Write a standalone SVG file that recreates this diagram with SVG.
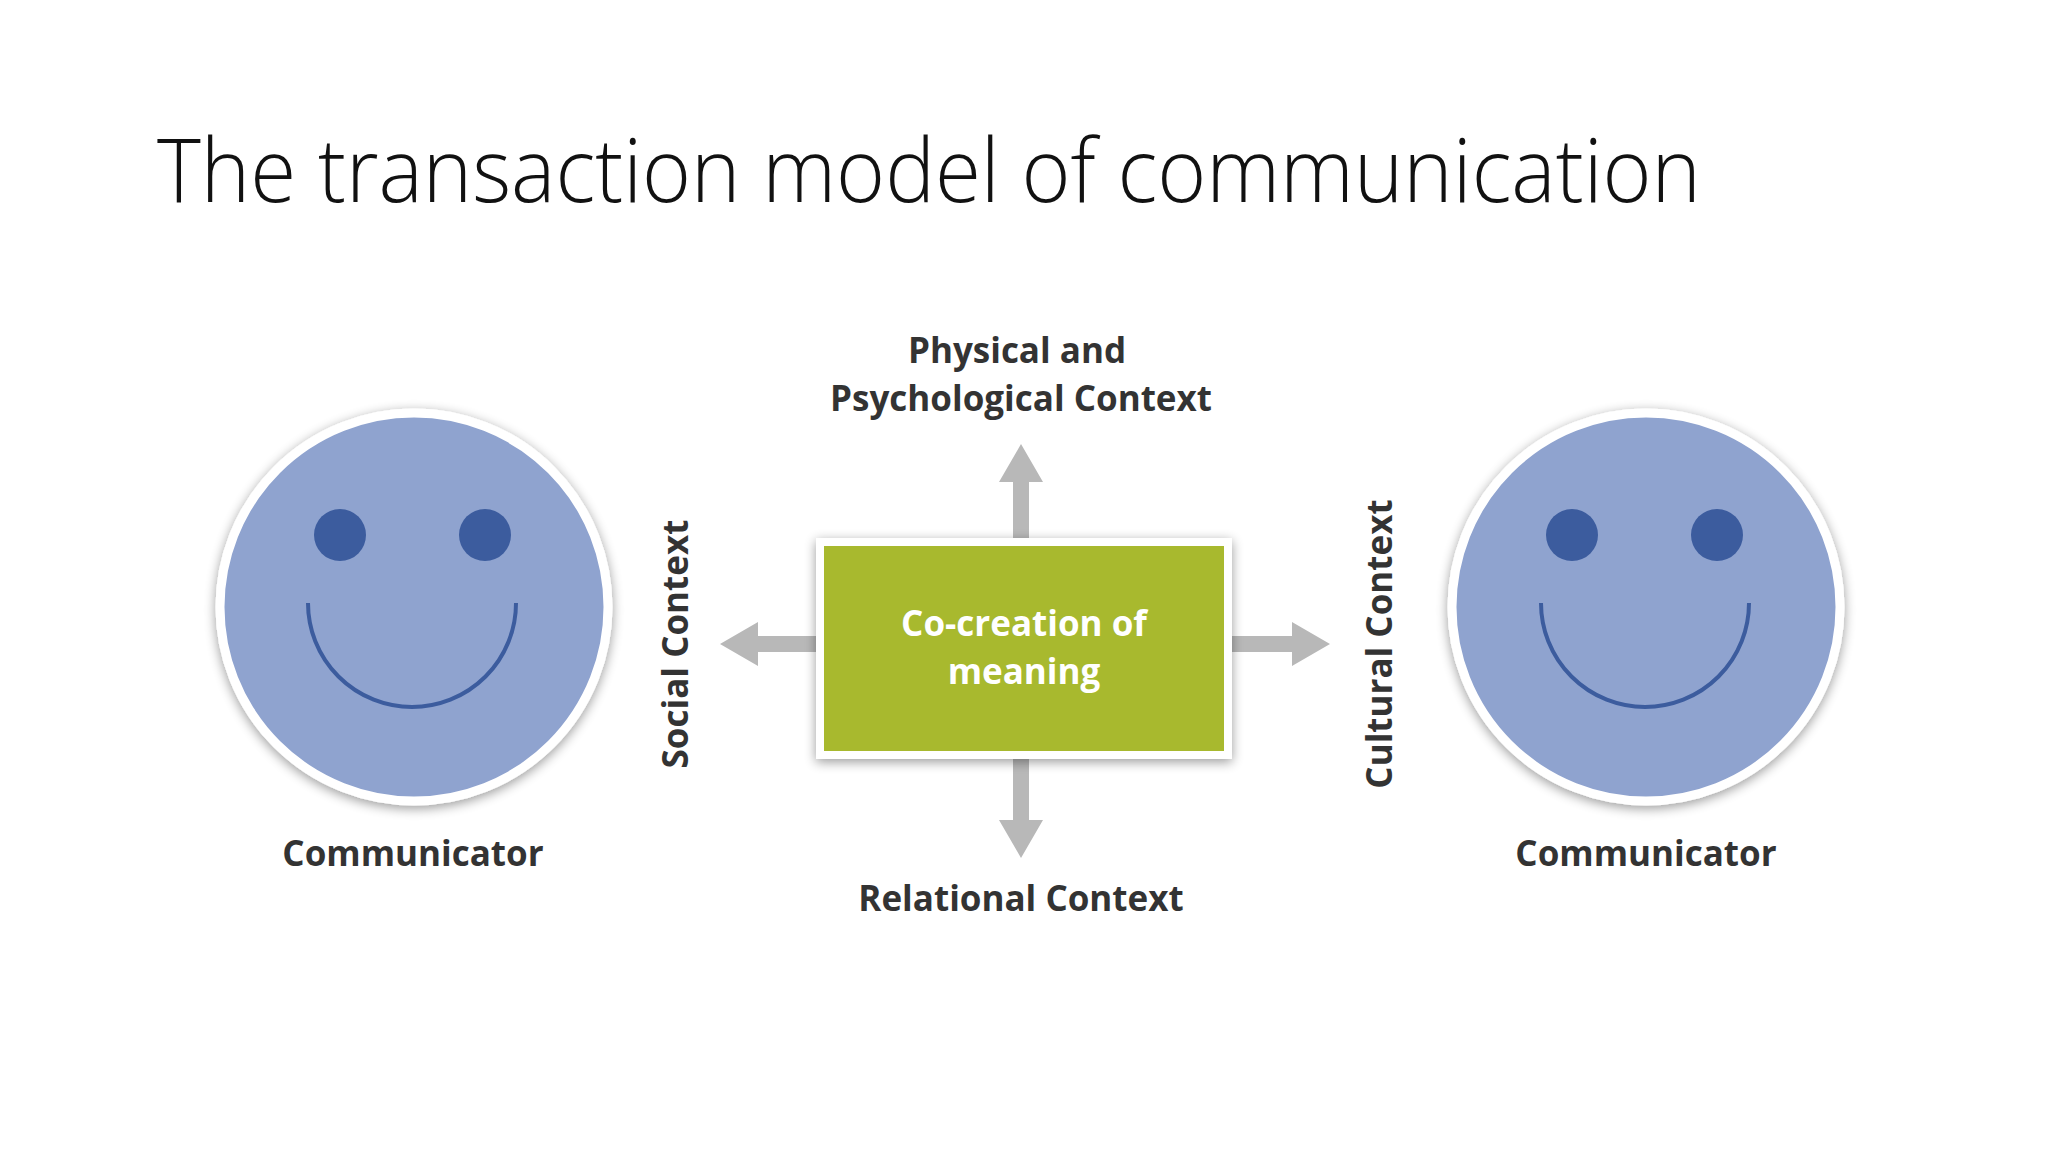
<svg xmlns="http://www.w3.org/2000/svg" width="2048" height="1152" viewBox="0 0 2048 1152">
<defs>
<style>
.lbl{font-family:"Open Sans",sans-serif;font-weight:bold;font-size:35px;fill:#333;text-anchor:middle}
.face{fill:#8fa3cf;stroke:#fff;stroke-width:9}
.eye{fill:#3c5c9e}
.smile{fill:none;stroke:#3c5c9e;stroke-width:4}
.arr{fill:#b8b8b8}
</style>
<filter id="sh" x="-20%" y="-20%" width="140%" height="140%"><feGaussianBlur in="SourceAlpha" stdDeviation="6"/><feOffset dx="0" dy="3"/><feComponentTransfer><feFuncA type="linear" slope="0.4"/></feComponentTransfer><feMerge><feMergeNode/><feMergeNode in="SourceGraphic"/></feMerge></filter>
</defs>
<rect width="2048" height="1152" fill="#fff"/>
<text x="157" y="202" font-family="Open Sans, sans-serif" font-weight="300" font-size="88" fill="#111" textLength="1544" lengthAdjust="spacingAndGlyphs">The transaction model of communication</text>
<g id="connectors">
<path class="arr" d="M1013,542 V482 H999 L1021,444 L1043,482 H1029 V542 Z"/>
<path class="arr" d="M1013,755 V820 H999 L1021,858 L1043,820 H1029 V755 Z"/>
<path class="arr" d="M820,636 H758 V622 L720,644 L758,666 V652 H820 Z"/>
<path class="arr" d="M1228,636 H1292 V622 L1330,644 L1292,666 V652 H1228 Z"/>
</g>
<g id="communicator-left">
<circle class="face" cx="414" cy="607" r="194" filter="url(#sh)"/>
<circle class="eye" cx="340" cy="535" r="26"/><circle class="eye" cx="485" cy="535" r="26"/>
<path class="smile" d="M308,603 A104,104 0 0 0 516,603"/>
<text class="lbl" x="413" y="866">Communicator</text>
</g>
<g id="communicator-right">
<circle class="face" cx="1646" cy="607" r="194" filter="url(#sh)"/>
<circle class="eye" cx="1572" cy="535" r="26"/><circle class="eye" cx="1717" cy="535" r="26"/>
<path class="smile" d="M1541,603 A104,104 0 0 0 1749,603"/>
<text class="lbl" x="1646" y="866">Communicator</text>
</g>
<g id="center">
<rect x="820" y="542" width="408" height="213" fill="#a8b92f" stroke="#fff" stroke-width="8" filter="url(#sh)"/>
<text class="lbl" x="1024" y="636" style="fill:#fff">Co-creation of</text>
<text class="lbl" x="1024" y="684" style="fill:#fff">meaning</text>
</g>
<g id="physical"><text class="lbl" x="1017" y="363">Physical and</text><text class="lbl" x="1021" y="411">Psychological Context</text></g>
<g id="relational"><text class="lbl" x="1021" y="911">Relational Context</text></g>
<g id="social"><text class="lbl" transform="translate(688,644) rotate(-90)">Social Context</text></g>
<g id="cultural"><text class="lbl" transform="translate(1392,644) rotate(-90)">Cultural Context</text></g>
</svg>
